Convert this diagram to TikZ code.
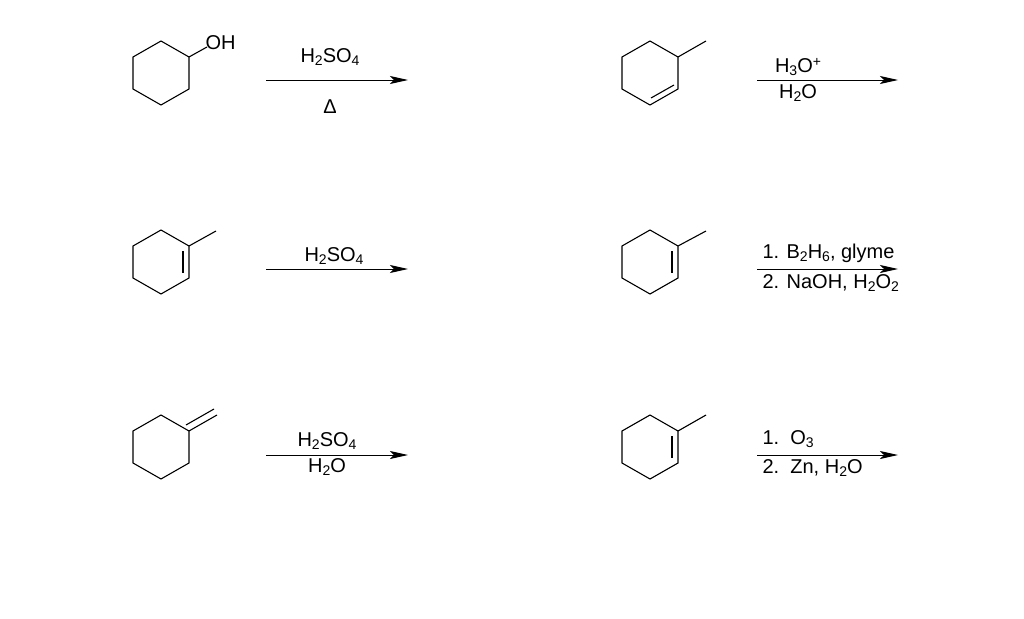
\documentclass[tikz,border=0pt]{standalone}
\usepackage{fontspec}
\setmainfont{Liberation Sans}
\usetikzlibrary{arrows.meta}
\newcommand{\lsb}[1]{\raisebox{-0.3ex}{\fontsize{14}{14}\selectfont #1}}
\newcommand{\lsp}[1]{\raisebox{0.6ex}{\fontsize{14}{14}\selectfont #1}}
\begin{document}
\begin{tikzpicture}[x=1pt,y=-1pt,line width=1.1pt,
  txt/.style={inner sep=0pt,font=\fontsize{20}{22}\selectfont},
  rxn/.style={-{Stealth[length=18pt,width=8pt,inset=4pt]},line width=1pt}]
\useasboundingbox (0,0) rectangle (1024,618);
\newcommand{\hexring}[2]{%
  \draw (#1,#2-32) -- (#1+28,#2-16) -- (#1+28,#2+16) -- (#1,#2+32) -- (#1-28,#2+16) -- (#1-28,#2-16) -- cycle;}
% row 1 left: cyclohexanol
\hexring{161}{73}
\draw (189,57) -- (207,47);
\node[txt,anchor=west] (oh) at (205,43) {OH};
% row 1 right
\hexring{650}{73}
\draw (678,57) -- (706,41);
\draw (651,98) -- (674,85);
% row 2
\hexring{161}{262}
\draw (189,246) -- (216,231);
\draw (183,251) -- (183,273);
\hexring{650}{262}
\draw (678,246) -- (706,231);
\draw (672,251) -- (672,273);
% row 3
\hexring{161}{447}
\draw (189,431) -- (217,415);
\draw (186,425) -- (214,409);
\hexring{650}{447}
\draw (678,431) -- (706,415);
\draw (672,436) -- (672,458);
% arrows
\coordinate (a1s) at (266,80); \coordinate (a1e) at (408,80);
\coordinate (a2s) at (757,80); \coordinate (a2e) at (898,80);
\coordinate (a3s) at (266,269); \coordinate (a3e) at (408,269);
\coordinate (a4s) at (757,269); \coordinate (a4e) at (898,269);
\coordinate (a5s) at (266,455); \coordinate (a5e) at (408,455);
\coordinate (a6s) at (757,455); \coordinate (a6e) at (898,455);
\foreach \i in {1,...,6} {\draw[rxn] (a\i s) -- (a\i e);}
% labels
\node[txt] (l1) at (330,57) {H\lsb{2}SO\lsb{4}};
\node[txt] (l1b) at (330,107) {Δ};
\node[txt] (l2) at (798,67) {H\lsb{3}O\lsp{+}};
\node[txt] (l2b) at (798,93) {H\lsb{2}O};
\node[txt] (l3) at (334,256) {H\lsb{2}SO\lsb{4}};
\node[txt,anchor=west] (l4) at (762,253) {1. B\lsb{2}H\lsb{6}, glyme};
\node[txt,anchor=west] (l4b) at (762,283) {2. NaOH, H\lsb{2}O\lsb{2}};
\node[txt] (l5) at (327,441) {H\lsb{2}SO\lsb{4}};
\node[txt] (l5b) at (327,467) {H\lsb{2}O};
\node[txt,anchor=west] (l6) at (762,439) {1.\ \ O\lsb{3}};
\node[txt,anchor=west] (l6b) at (762,468) {2.\ \ Zn, H\lsb{2}O};
\end{tikzpicture}
\end{document}
